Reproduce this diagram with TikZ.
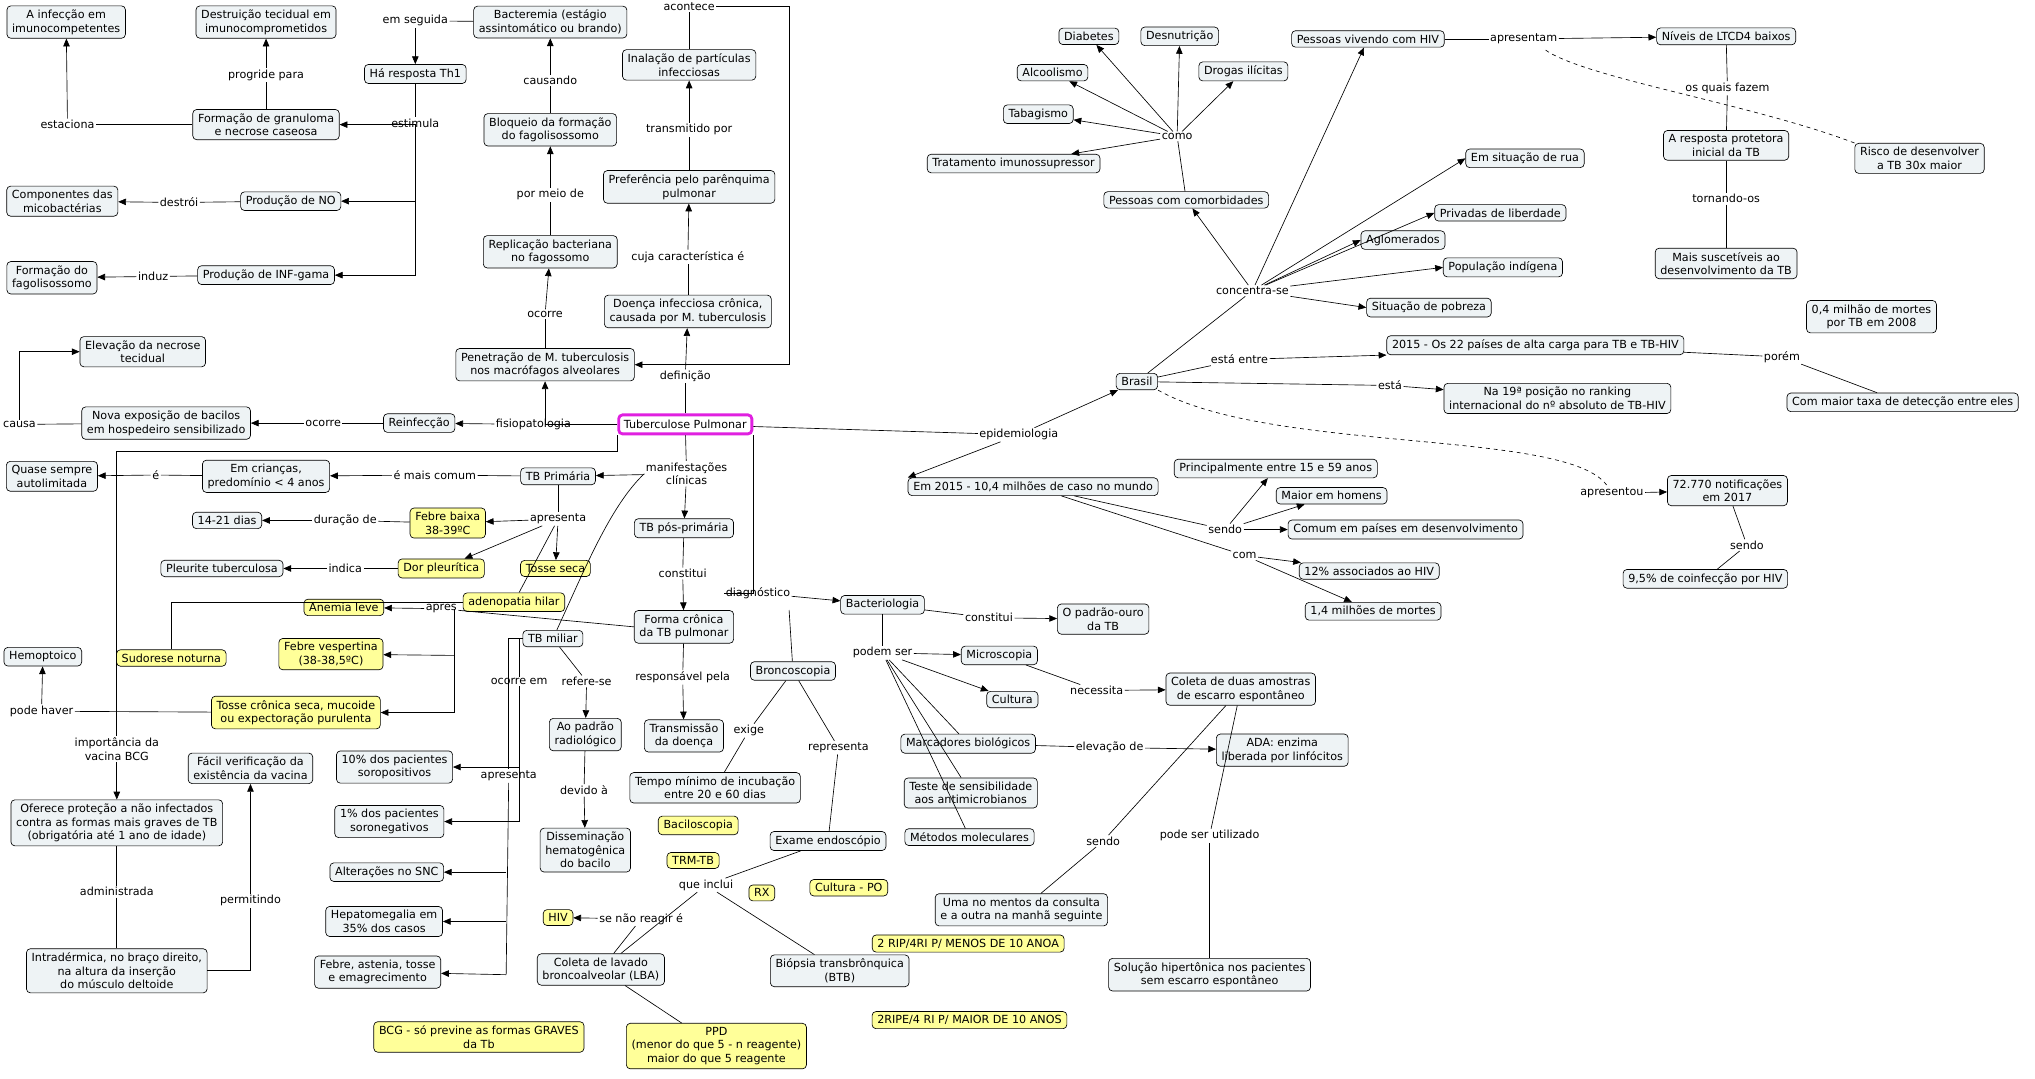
\documentclass[tikz,border=0pt]{standalone}
\usepackage{fontspec}
\setmainfont{DejaVu Sans}
\usetikzlibrary{arrows.meta}
\definecolor{boxc}{HTML}{EEF3F5}
\definecolor{yelc}{HTML}{FFFF99}
\definecolor{pinkc}{HTML}{E020E0}
\begin{document}
\begin{tikzpicture}[x=1pt,y=-1pt,
  every node/.style={font=\fontsize{8.6}{10.5}\selectfont, align=center},
  box/.style={draw, rounded corners=3pt, fill=boxc, inner xsep=4pt, inner ysep=3pt},
  yel/.style={box, fill=yelc},
  lab/.style={inner sep=1pt},
  ar/.style={-{Triangle[length=6pt,width=5pt]}},
  line width=0.5pt]
\useasboundingbox (0,0) rectangle (1568,831);
% ---------- left/top ----------
\node[box] (a1) at (51,17) {A infecção em\\imunocompetentes};
\node[box] (a2) at (205,17) {Destruição tecidual em\\imunocomprometidos};
\node[lab] (Lseg) at (320,16) {em seguida};
\node[box] (bact) at (424,17) {Bacteremia (estágio\\assintomático ou brando)};
\node[lab] (Lacon) at (531,5) {acontece};
\node[box] (th1) at (320,57) {Há resposta Th1};
\node[box] (inal) at (531,50) {Inalação de partículas\\infecciosas};
\node[lab] (Lprog) at (205,58) {progride para};
\node[lab] (Lcaus) at (424,62) {causando};
\node[box] (gran) at (205,96) {Formação de granuloma\\e necrose caseosa};
\node[lab] (Lest) at (52,96) {estaciona};
\node[lab] (Lestim) at (320,95) {estimula};
\node[box] (bloq) at (424,100) {Bloqueio da formação\\do fagolisossomo};
\node[lab] (Ltrans) at (531,100) {transmitido por};
\node[box] (pref) at (531,144) {Preferência pelo parênquima\\pulmonar};
\node[lab] (Lpmd) at (424,150) {por meio de};
\node[box] (comp) at (48,155) {Componentes das\\micobactérias};
\node[lab] (Ldest) at (138,156) {destrói};
\node[box] (no) at (224,155) {Produção de NO};
\node[box] (repl) at (424,194) {Replicação bacteriana\\no fagossomo};
\node[lab] (Lcuja) at (530,198) {cuja característica é};
\node[box] (form) at (40,214) {Formação do\\fagolisossomo};
\node[lab] (Lind) at (118,213) {induz};
\node[box] (inf) at (205,212) {Produção de INF-gama};
\node[box] (doen) at (530,240) {Doença infecciosa crônica,\\causada por M. tuberculosis};
\node[lab] (Locor) at (420,242) {ocorre};
\node[box] (elev) at (110,271) {Elevação da necrose\\tecidual};
\node[box] (pen) at (420,281) {Penetração de M. tuberculosis\\nos macrófagos alveolares};
\node[lab] (Ldef) at (528,290) {definição};
\node[lab] (Lcausa) at (15,327) {causa};
\node[box] (nova) at (128,326) {Nova exposição de bacilos\\em hospedeiro sensibilizado};
\node[lab] (Locor2) at (249,326) {ocorre};
\node[box] (reinf) at (323,326) {Reinfecção};
\node[lab] (Lfis) at (411,327) {fisiopatologia};
\node[box, draw=pinkc, line width=2.2pt, fill=white, inner sep=4pt] (tb) at (528,327) {Tuberculose Pulmonar};
\node[lab] (Lepi) at (785,335) {epidemiologia};
\node[box] (quase) at (40,367) {Quase sempre\\autolimitada};
\node[lab] (Le) at (120,366) {é};
\node[box] (cri) at (205,367) {Em crianças,\\predomínio < 4 anos};
\node[lab] (Lmc) at (335,366) {é mais comum};
\node[box] (prim) at (430,367) {TB Primária};
\node[lab] (Lman) at (529,365) {manifestações\\clínicas};
\node[lab] (Lapr) at (430,400) {apresenta};
\node[box] (dias) at (175,401) {14-21 dias};
\node[lab] (Ldur) at (266,401) {duração de};
\node[yel] (febb) at (345,403) {Febre baixa\\38-39ºC};
\node[box] (pos) at (527,407) {TB pós-primária};
\node[box] (pleu) at (171,438) {Pleurite tuberculosa};
\node[lab] (Lindi) at (266,438) {indica};
\node[yel] (dor) at (340,438) {Dor pleurítica};
\node[yel] (tos) at (428,438) {Tosse seca};
\node[lab] (Lcons) at (526,442) {constitui};
\node[lab] (Ldiag) at (584,457) {diagnóstico};
\node[box] (bacter) at (680,466) {Bacteriologia};
\node[yel] (anem) at (265,468) {Anemia leve};
\node[lab] (Lapres) at (340,469) {apres};
\node[yel] (aden) at (396,464) {adenopatia hilar};
\node[box] (cron) at (527,483) {Forma crônica\\da TB pulmonar};
\node[lab] (Lcons2) at (762,476) {constitui};
\node[box] (pad) at (850,477) {O padrão-ouro\\da TB};
\node[box] (hemo) at (33,506) {Hemoptoico};
\node[yel] (sud) at (132,507) {Sudorese noturna};
\node[yel] (febv) at (255,504) {Febre vespertina\\(38-38,5ºC)};
\node[box] (mil) at (426,492) {TB miliar};
\node[lab] (Lpod) at (680,503) {podem ser};
\node[box] (micro) at (770,505) {Microscopia};
\node[box] (bron) at (611,517) {Broncoscopia};
\node[lab] (Locem) at (400,525) {ocorre em};
\node[lab] (Lref) at (452,525) {refere-se};
\node[lab] (Lresp) at (526,522) {responsável pela};
\node[lab] (Lnec) at (845,532) {necessita};
\node[box] (colet) at (956,531) {Coleta de duas amostras\\de escarro espontâneo};
\node[box] (cult) at (780,539) {Cultura};
\node[lab] (Lph) at (32,548) {pode haver};
\node[yel] (tosc) at (228,549) {Tosse crônica seca, mucoide\\ou expectoração purulenta};
\node[lab] (Limp) at (90,577) {importância da\\vacina BCG};
\node[box] (padr) at (451,566) {Ao padrão\\radiológico};
\node[box] (transm) at (527,567) {Transmissão\\da doença};
\node[lab] (Lexi) at (577,563) {exige};
\node[box] (marc) at (746,573) {Marcadores biológicos};
\node[lab] (Lelev) at (855,576) {elevação de};
\node[box] (ada) at (988,578) {ADA: enzima\\liberada por linfócitos};
\node[box] (facil) at (193,592) {Fácil verificação da\\existência da vacina};
\node[box] (dez) at (304,591) {10\% dos pacientes\\soropositivos};
\node[lab] (Lapr2) at (392,598) {apresenta};
\node[lab] (Ldev) at (450,609) {devido à};
\node[box] (tempo) at (551,607) {Tempo mínimo de incubação\\entre 20 e 60 dias};
\node[lab] (Lrep) at (646,576) {representa};
\node[box] (teste) at (748,611) {Teste de sensibilidade\\aos antimicrobianos};
\node[box] (ofer) at (90,634) {Oferece proteção a não infectados\\contra as formas mais graves de TB\\(obrigatória até 1 ano de idade)};
\node[box] (um) at (300,633) {1\% dos pacientes\\soronegativos};
\node[yel] (bacil) at (538,636) {Baciloscopia};
\node[box] (diss) at (451,655) {Disseminação\\hematogênica\\do bacilo};
\node[box] (exame) at (638,648) {Exame endoscópio};
\node[box] (metod) at (747,645) {Métodos moleculares};
\node[lab] (Lpsu) at (932,644) {pode ser utilizado};
\node[lab] (Lsend) at (850,648) {sendo};
\node[box] (alter) at (298,672) {Alterações no SNC};
\node[yel] (trm) at (534,663) {TRM-TB};
\node[yel] (cultpo) at (654,684) {Cultura - PO};
\node[yel] (rx) at (587,688) {RX};
\node[lab] (Lqi) at (544,682) {que inclui};
\node[lab] (Ladm) at (90,687) {administrada};
\node[lab] (Lperm) at (193,694) {permitindo};
\node[box] (uma) at (787,701) {Uma no mentos da consulta\\e a outra na manhã seguinte};
\node[box] (hepa) at (296,710) {Hepatomegalia em\\35\% dos casos};
\node[yel] (hiv) at (430,707) {HIV};
\node[lab] (Lsnr) at (494,708) {se não reagir é};
\node[yel] (rip1) at (746,727) {2 RIP/4RI P/ MENOS DE 10 ANOA};
\node[box] (intra) at (90,748) {Intradérmica, no braço direito,\\na altura da inserção\\do músculo deltoide};
\node[box] (feb2) at (291,749) {Febre, astenia, tosse\\e emagrecimento};
\node[box] (lba) at (463,747) {Coleta de lavado\\broncoalveolar (LBA)};
\node[box] (biop) at (647,748) {Biópsia transbrônquica\\(BTB)};
\node[box] (solu) at (932,751) {Solução hipertônica nos pacientes\\sem escarro espontâneo};
\node[yel] (rip2) at (747,786) {2RIPE/4 RI P/ MAIOR DE 10 ANOS};
\node[yel] (bcg) at (369,799) {BCG - só previne as formas GRAVES\\da Tb};
\node[yel] (ppd) at (552,806) {PPD\\(menor do que 5 - n reagente)\\maior do que 5 reagente};
% ---------- right ----------
\node[box] (diab) at (839,28) {Diabetes};
\node[box] (desn) at (909,28) {Desnutrição};
\node[box] (alco) at (811,56) {Alcoolismo};
\node[box] (drog) at (958,55) {Drogas ilícitas};
\node[box] (taba) at (800,88) {Tabagismo};
\node[lab] (Lcomo) at (907,105) {como};
\node[box] (trat) at (781,126) {Tratamento imunossupressor};
\node[box] (como) at (914,154) {Pessoas com comorbidades};
\node[box] (hivp) at (1054,30) {Pessoas vivendo com HIV};
\node[lab] (Lapm) at (1174,30) {apresentam};
\node[box] (ltcd) at (1330,28) {Níveis de LTCD4 baixos};
\node[lab] (Lqf) at (1331,68) {os quais fazem};
\node[box] (resp) at (1330,112) {A resposta protetora\\inicial da TB};
\node[box] (risco) at (1479,122) {Risco de desenvolver\\a TB 30x maior};
\node[box] (rua) at (1175,122) {Em situação de rua};
\node[lab] (Ltorn) at (1330,153) {tornando-os};
\node[box] (priv) at (1156,164) {Privadas de liberdade};
\node[box] (aglo) at (1081,185) {Aglomerados};
\node[box] (mais) at (1330,203) {Mais suscetíveis ao\\desenvolvimento da TB};
\node[box] (popi) at (1158,206) {População indígena};
\node[lab] (Lconc) at (965,224) {concentra-se};
\node[box] (pobr) at (1101,237) {Situação de pobreza};
\node[box] (m04) at (1442,244) {0,4 milhão de mortes\\por TB em 2008};
\node[box] (k22) at (1183,266) {2015 - Os 22 países de alta carga para TB e TB-HIV};
\node[lab] (Lentre) at (955,277) {está entre};
\node[lab] (Lpor) at (1373,275) {porém};
\node[box] (bra) at (876,294) {Brasil};
\node[lab] (Lesta) at (1071,297) {está};
\node[box] (n19) at (1200,307) {Na 19ª posição no ranking\\internacional do nº absoluto de TB-HIV};
\node[box] (maior) at (1466,310) {Com maior taxa de detecção entre eles};
\node[box] (princ) at (983,361) {Principalmente entre 15 e 59 anos};
\node[box] (e2015) at (796,375) {Em 2015 - 10,4 milhões de caso no mundo};
\node[box] (homem) at (1026,382) {Maior em homens};
\node[lab] (Lapt) at (1242,380) {apresentou};
\node[box] (n72) at (1331,378) {72.770 notificações\\em 2017};
\node[lab] (Lsend2) at (944,408) {sendo};
\node[box] (comum) at (1083,408) {Comum em países em desenvolvimento};
\node[lab] (Lsend3) at (1346,420) {sendo};
\node[lab] (Lcom) at (959,428) {com};
\node[box] (doze) at (1055,440) {12\% associados ao HIV};
\node[box] (nove) at (1314,446) {9,5\% de coinfecção por HIV};
\node[box] (um4) at (1058,471) {1,4 milhões de mortes};
% ---------- edges left/top ----------
\draw (bact) -- (Lseg); \draw[ar] (Lseg) -- (th1);
\draw (th1) -- (Lestim);
\draw[ar] (Lestim) |- (gran); \draw[ar] (Lestim) |- (no); \draw[ar] (Lestim) |- (inf);
\draw (gran) -- (Lprog); \draw[ar] (Lprog) -- (a2);
\draw (gran) -- (Lest); \draw[ar] (Lest) -- (a1);
\draw (no) -- (Ldest); \draw[ar] (Ldest) -- (comp);
\draw (inf) -- (Lind); \draw[ar] (Lind) -- (form);
\draw (pen) -- (Locor); \draw[ar] (Locor) -- (repl);
\draw (repl) -- (Lpmd); \draw[ar] (Lpmd) -- (bloq);
\draw (bloq) -- (Lcaus); \draw[ar] (Lcaus) -- (bact);
\draw (inal) -- (Lacon); \draw[ar] (Lacon) -| (608,281) -- (pen.east);
\draw (pref) -- (Ltrans); \draw[ar] (Ltrans) -- (inal);
\draw (doen) -- (Lcuja); \draw[ar] (Lcuja) -- (pref);
\draw (tb) -- (Ldef); \draw[ar] (Ldef) -- (doen);
\draw (tb) -- (Lfis); \draw[ar] (Lfis) -- (reinf); \draw[ar] (Lfis) -| (pen);
\draw (reinf) -- (Locor2); \draw[ar] (Locor2) -- (nova);
\draw (nova) -- (Lcausa); \draw[ar] (Lcausa) |- (elev);
\draw (tb) -- (Lman);
\draw[ar] (Lman) -- (prim); \draw[ar] (Lman) -- (pos);
\draw (Lman.west) .. controls (470,390) and (450,440) .. (mil);
\draw (prim) -- (Lmc); \draw[ar] (Lmc) -- (cri);
\draw (cri) -- (Le); \draw[ar] (Le) -- (quase);
\draw (prim) -- (Lapr);
\draw[ar] (Lapr) -- (febb); \draw[ar] (Lapr) -- (dor); \draw[ar] (Lapr) -- (tos); \draw (Lapr) -- (aden);
\draw (febb) -- (Ldur); \draw[ar] (Ldur) -- (dias);
\draw (dor) -- (Lindi); \draw[ar] (Lindi) -- (pleu);
\draw (pos) -- (Lcons); \draw[ar] (Lcons) -- (cron);
\draw (cron) -- (Lresp); \draw[ar] (Lresp) -- (transm);
\draw (cron.west) -- (Lapres); \draw[ar] (Lapres) -- (anem);
\draw (350,469) -- (350,549);
\draw[ar] (350,505) -- (febv); \draw[ar] (350,549) -- (tosc);
\draw (sud) |- (aden.west);
\draw (tosc) -- (Lph); \draw[ar] (Lph) -- (hemo);
\draw (tb.south west) |- (90,348) -- (Limp); \draw[ar] (Limp) -- (ofer);
\draw (ofer) -- (Ladm); \draw (Ladm) -- (intra);
\draw (intra) -| (Lperm); \draw[ar] (Lperm) -- (facil);
\draw (mil) -| (Locem); \draw (Locem) |- (355,591);
\draw[ar] (390,591) -- (dez); \draw[ar] (Locem) |- (um);
\draw (mil) -- (Lref); \draw[ar] (Lref) -- (padr);
\draw (padr) -- (Ldev); \draw[ar] (Ldev) -- (diss);
\draw (mil.west) -| (Lapr2); \draw (Lapr2) -- (390,751);
\draw[ar] (390,672) -- (alter); \draw[ar] (390,710) -- (hepa); \draw[ar] (390,751) -- (feb2);
% diagnóstico
\draw (tb.south east) |- (Ldiag); \draw[ar] (Ldiag) -- (bacter);
\draw (bron) -- (608,470);
\draw (bacter) -- (Lcons2); \draw[ar] (Lcons2) -- (pad);
\draw (bacter) -- (Lpod); \draw[ar] (Lpod) -- (micro);
\draw[ar] (Lpod) -- (cult); \draw (Lpod) -- (marc); \draw (Lpod) -- (teste); \draw (Lpod) -- (metod);
\draw (micro) -- (Lnec); \draw[ar] (Lnec) -- (colet);
\draw (colet) -- (Lsend); \draw (Lsend) -- (uma);
\draw (colet) -- (Lpsu); \draw (Lpsu) -- (solu);
\draw (marc) -- (Lelev); \draw[ar] (Lelev) -- (ada);
\draw (bron) -- (Lexi); \draw (Lexi) -- (tempo);
\draw (bron) -- (Lrep); \draw (Lrep) -- (exame);
\draw (exame) -- (Lqi); \draw (Lqi) -- (lba); \draw (Lqi) -- (biop);
\draw (lba) -- (Lsnr); \draw[ar] (Lsnr) -- (hiv);
\draw (ppd) -- (lba);
% ---------- edges right ----------
\draw (tb) -- (Lepi); \draw[ar] (Lepi) -- (bra); \draw[ar] (Lepi) -- (e2015.north west);
\draw (bra) -- (Lconc);
\draw[ar] (Lconc) -- (como); \draw[ar] (Lconc) -- (hivp); \draw[ar] (Lconc) -- (rua.west);
\draw[ar] (Lconc) -- (priv.west); \draw[ar] (Lconc) -- (aglo.west); \draw[ar] (Lconc) -- (popi.west);
\draw[ar] (Lconc) -- (pobr.west);
\draw (como) -- (Lcomo);
\draw[ar] (Lcomo) -- (diab); \draw[ar] (Lcomo) -- (desn); \draw[ar] (Lcomo) -- (alco);
\draw[ar] (Lcomo) -- (drog); \draw[ar] (Lcomo) -- (taba); \draw[ar] (Lcomo) -- (trat);
\draw (hivp) -- (Lapm); \draw[ar] (Lapm) -- (ltcd);
\draw (ltcd) -- (Lqf); \draw (Lqf) -- (resp);
\draw (resp) -- (Ltorn); \draw (Ltorn) -- (mais);
\draw[dashed] (risco.north west) .. controls (1350,80) and (1220,60) .. (1190,38);
\draw (bra) -- (Lentre); \draw[ar] (Lentre) -- (k22.south west);
\draw (k22) -- (Lpor); \draw (Lpor) -- (maior);
\draw (bra) -- (Lesta); \draw[ar] (Lesta) -- (n19);
\draw[dashed] (bra.south east) .. controls (980,350) and (1210,330) .. (Lapt);
\draw[ar] (Lapt) -- (n72);
\draw (n72) -- (Lsend3); \draw (Lsend3) -- (nove);
\draw (e2015) -- (Lsend2);
\draw[ar] (Lsend2) -- (princ); \draw[ar] (Lsend2) -- (homem); \draw[ar] (Lsend2) -- (comum);
\draw (e2015) -- (Lcom); \draw[ar] (Lcom) -- (doze); \draw[ar] (Lcom) -- (um4);
\end{tikzpicture}
\end{document}
